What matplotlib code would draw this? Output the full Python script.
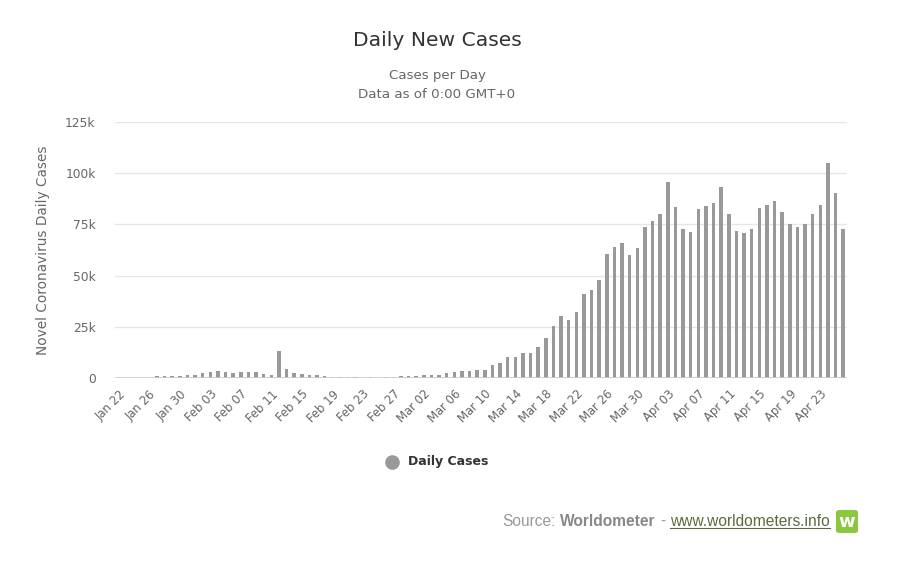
import matplotlib
matplotlib.use("Agg")
import matplotlib.pyplot as plt
from matplotlib.lines import Line2D
from matplotlib.patches import FancyBboxPatch

# ---------------- data ----------------
start_date = "2020-01-22"
daily_cases_k = [
    0, 0, 0, 0, 0, 1.0, 1.0, 1.0, 1.1, 1.6,
    1.6, 2.6, 2.9, 3.6, 3.1, 2.4, 3.1, 2.8, 2.8, 2.1,
    1.3, 13.3, 4.6, 2.2, 1.8, 1.5, 1.3, 1.1, 0.3, 0.6,
    0.6, 0.5, 0.2, 0.4, 0.2, 0.5, 0.6, 1.0, 1.0, 1.1,
    1.3, 1.6, 1.7, 2.3, 2.9, 3.4, 3.4, 4.1, 4.1, 6.3,
    7.5, 10.4, 10.4, 12.2, 12.2, 15.1, 19.7, 25.6, 30.3, 28.3,
    32.2, 41.0, 43.1, 47.9, 60.5, 64.1, 65.8, 60.1, 63.5, 73.6,
    76.5, 79.9, 95.7, 83.3, 72.9, 71.3, 82.4, 84.0, 85.5, 93.4,
    80.1, 71.9, 70.6, 72.9, 82.8, 84.6, 86.3, 81.1, 75.2, 73.7,
    75.2, 80.1, 84.6, 105.1, 90.2, 72.9,
]
daily_cases = [v * 1000 for v in daily_cases_k]
tick_labels = ["Jan 22", "Jan 26", "Jan 30", "Feb 03", "Feb 07", "Feb 11",
               "Feb 15", "Feb 19", "Feb 23", "Feb 27", "Mar 02", "Mar 06",
               "Mar 10", "Mar 14", "Mar 18", "Mar 22", "Mar 26", "Mar 30",
               "Apr 03", "Apr 07", "Apr 11", "Apr 15", "Apr 19", "Apr 23"]
y_ticks = [0, 25000, 50000, 75000, 100000, 125000]
y_tick_labels = ["0", "25k", "50k", "75k", "100k", "125k"]
series_name = "Daily Cases"

# ---------------- figure ----------------
W, H = 900, 570
fig = plt.figure(figsize=(W / 100, H / 100), dpi=100)
fig.patch.set_facecolor("white")

def fx(px):
    return px / W

def fy(py):
    return 1 - py / H

left, right, top, bottom = 115, 847, 122, 378
ax = fig.add_axes([fx(left), fy(bottom), fx(right - left), (bottom - top) / H])

n = len(daily_cases)
xs = list(range(n))
ax.bar(xs, daily_cases, width=0.45, color="#999999", zorder=3)

ax.set_xlim(-0.5, n - 0.5)
ax.set_ylim(0, 125000)
ax.set_yticks(y_ticks)
ax.set_yticklabels(y_tick_labels)
ax.set_xticks(xs[::4])
ax.set_xticklabels(tick_labels, rotation=45, ha="right", va="top",
                   rotation_mode="anchor")

for s in ax.spines.values():
    s.set_visible(False)
ax.grid(axis="y", color="#e6e6e6", linewidth=1, zorder=0)
ax.axhline(0, color="#cccccc", linewidth=1.2, zorder=4)

ax.tick_params(axis="y", length=0, pad=14, labelsize=8.8, labelcolor="#666666")
ax.tick_params(axis="x", length=0, pad=7, labelsize=8.4, labelcolor="#666666")

ax.set_ylabel("Novel Coronavirus Daily Cases", fontsize=9.8, color="#666666")
ax.yaxis.set_label_coords((50 - left) / (right - left), 0.5)

# titles
fig.text(fx(437), fy(41), "Daily New Cases", ha="center", va="center",
         fontsize=14.6, color="#333333")
fig.text(fx(437), fy(76), "Cases per Day", ha="center", va="center",
         fontsize=9.6, color="#666666")
fig.text(fx(437), fy(94), "Data as of 0:00 GMT+0", ha="center", va="center",
         fontsize=9.6, color="#666666")

# legend
fig.add_artist(Line2D([fx(392)], [fy(462)], marker="o", markersize=9.5,
                      color="#999999", linestyle="none"))
fig.text(fx(408), fy(462), series_name, ha="left", va="center",
         fontsize=9.0, fontweight="bold", color="#333333")

# source line (built right to left)
fig.canvas.draw()
renderer = fig.canvas.get_renderer()
sy = fy(521)
src_font = "Liberation Sans"
fs = 11.2
link = fig.text(fx(830), sy, "www.worldometers.info", ha="right", va="center",
                fontsize=fs, color="#5c6b3c", family=src_font)
bb = link.get_window_extent(renderer)
fig.add_artist(Line2D([bb.x0 / W, bb.x1 / W], [(bb.y0 + 1) / H, (bb.y0 + 1) / H],
                      color="#5c6b3c", linewidth=0.8))
dash = fig.text(bb.x0 / W - fx(5), sy, "-", ha="right", va="center",
                fontsize=fs, color="#999999", family=src_font)
bb2 = dash.get_window_extent(renderer)
wm = fig.text(bb2.x0 / W - fx(5), sy, "Worldometer", ha="right", va="center",
              fontsize=fs, color="#888888", fontweight="bold", family=src_font)
bb3 = wm.get_window_extent(renderer)
fig.text(bb3.x0 / W - fx(4), sy, "Source:", ha="right", va="center",
         fontsize=fs, color="#999999", family=src_font)

# W icon
icon = FancyBboxPatch((fx(836), fy(533)), fx(22), 23 / H,
                      boxstyle="round,pad=0,rounding_size=0.004",
                      transform=fig.transFigure, facecolor="#8dc63f",
                      edgecolor="none")
fig.add_artist(icon)
fig.text(fx(847), fy(522), "w", ha="center", va="center", fontsize=13,
         fontweight="bold", color="white")

fig.savefig("out.png", dpi=100, facecolor="white")
